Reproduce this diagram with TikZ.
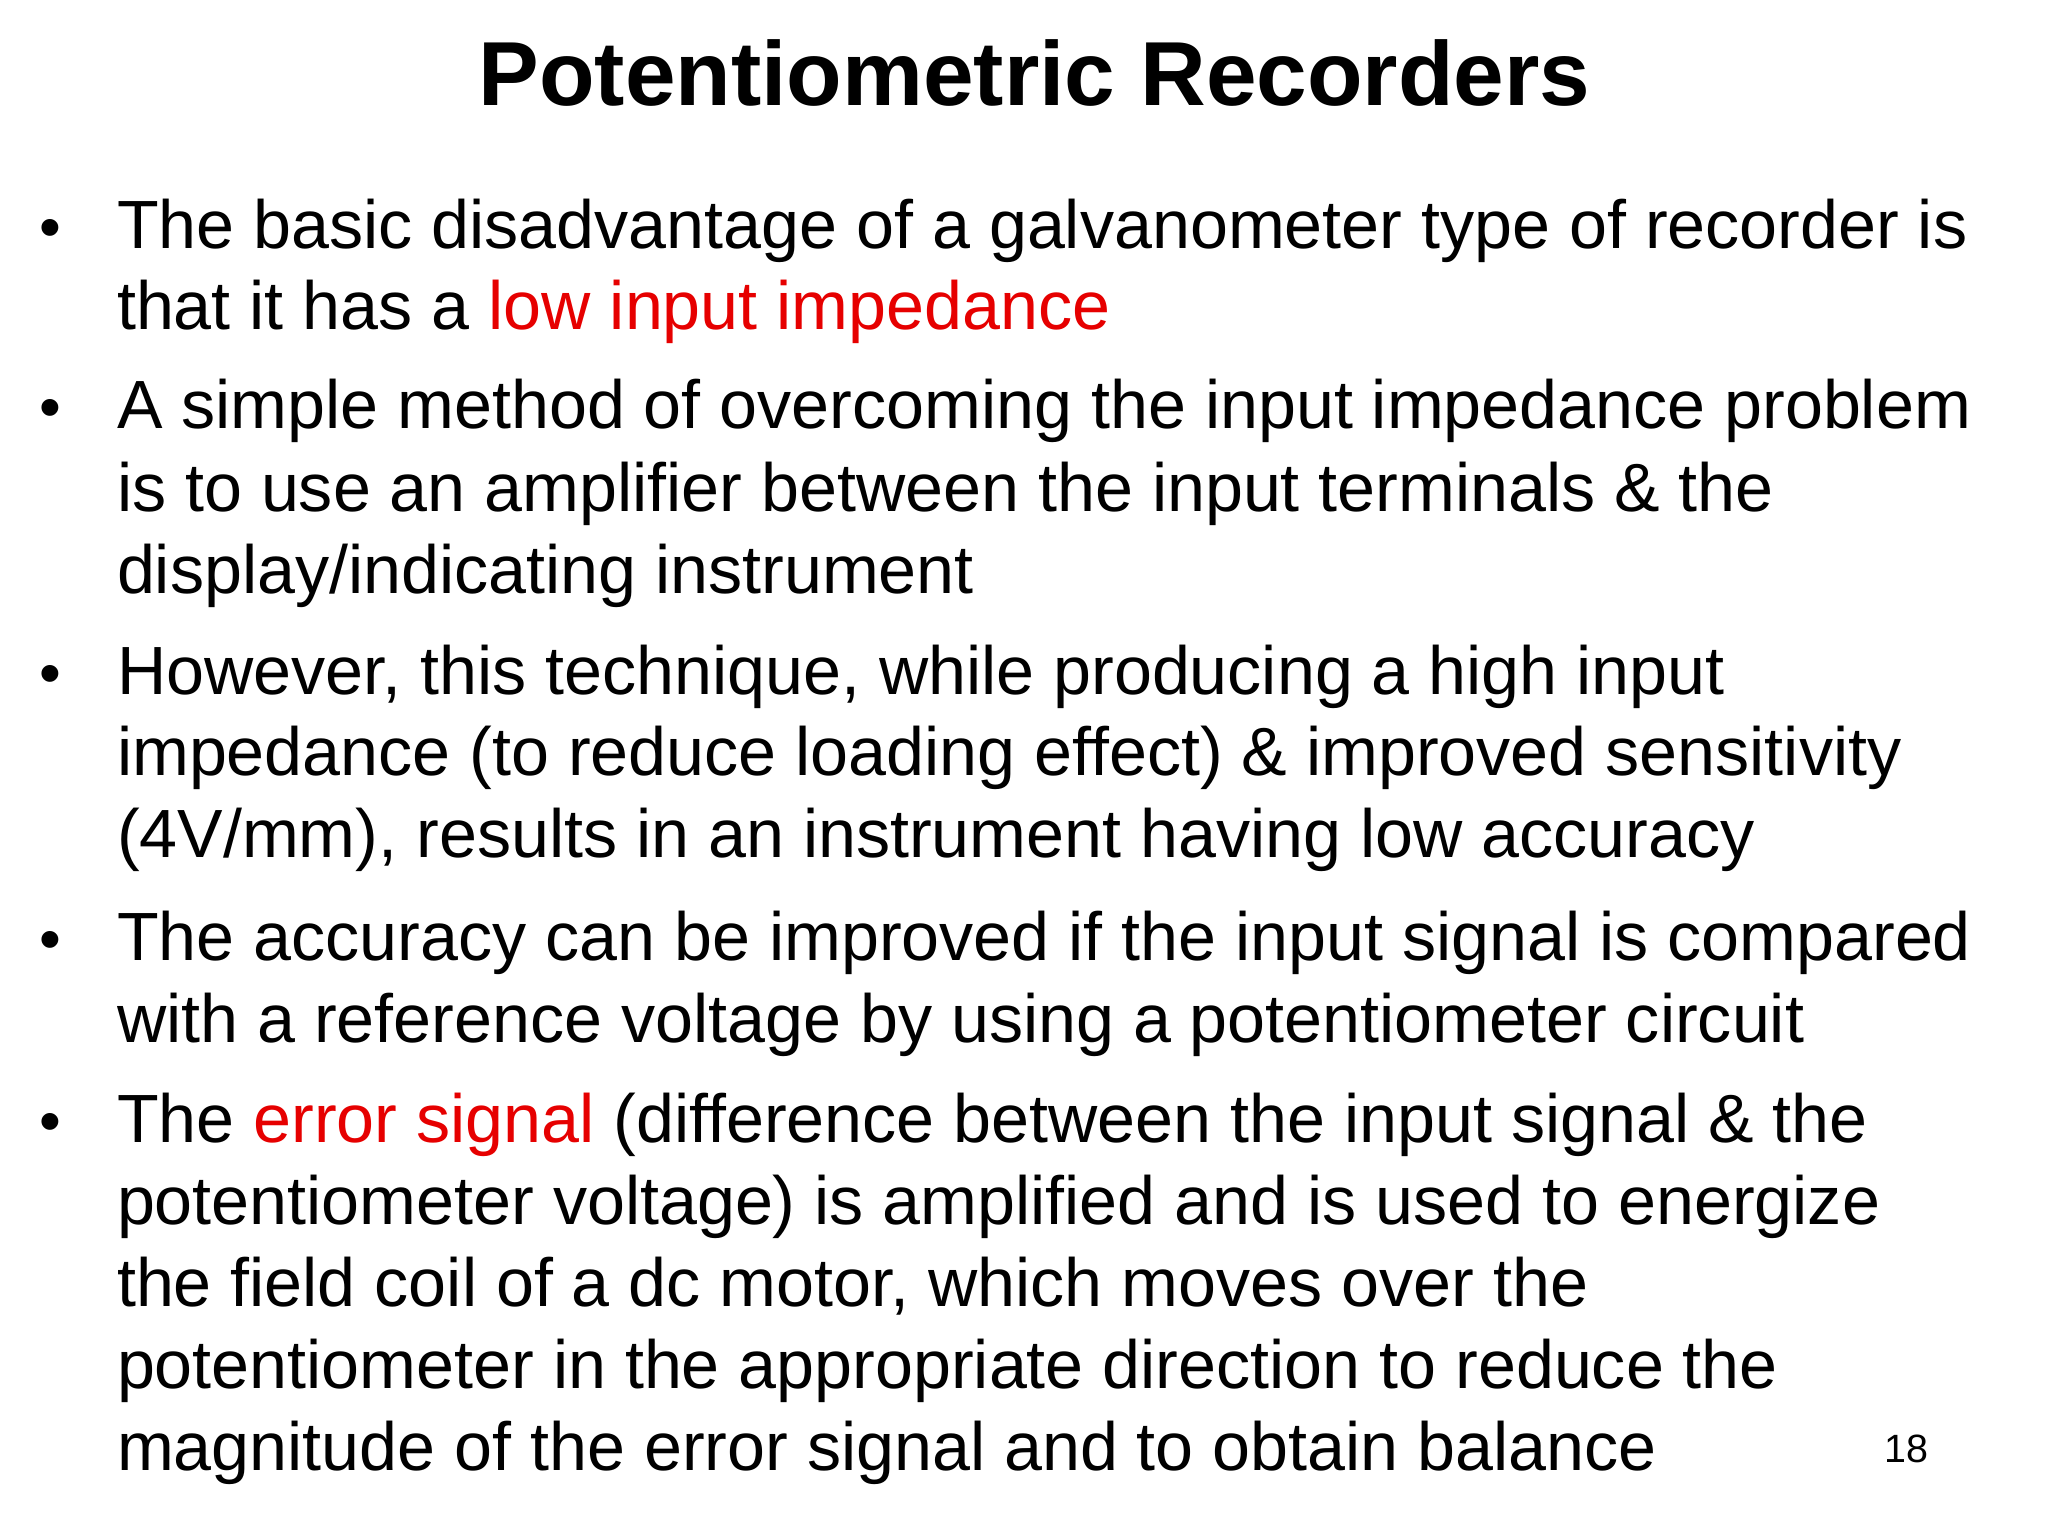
\documentclass[tikz,border=0pt]{standalone}
\usepackage{fontspec}
\setmainfont{Liberation Sans}
\definecolor{hl}{RGB}{230,0,0}
\begin{document}
\begin{tikzpicture}[x=0.01cm,y=-0.01cm,
  ln/.style={anchor=base west,inner sep=0pt,font=\fontsize{14.7pt}{17pt}\selectfont},
  bul/.style={anchor=base,inner sep=0pt,font=\fontsize{13.4pt}{16pt}\selectfont}]
\fill[white] (0,0) rectangle (1552,1164);
\useasboundingbox (0,0) rectangle (1552,1164);
\node[anchor=base,inner sep=0pt,font=\fontsize{19.6pt}{23pt}\selectfont\bfseries] (title) at (784,80) {Potentiometric Recorders};
\foreach \y/\n in {188/b1,325/b2,526/b3,728/b4,866/b5}
  \node[bul] (\n) at (38,\y) {•};
\node[ln] (l1) at (88,188) {The basic disadvantage of a galvanometer type of recorder is};
\node[ln] (l2) at (88,250) {that it has a \textcolor{hl}{low input impedance}};
\node[ln] (l3) at (88,325) {A simple method of overcoming the input impedance problem};
\node[ln] (l4) at (88,388) {is to use an amplifier between the input terminals \& the};
\node[ln] (l5) at (88,450) {display/indicating instrument};
\node[ln] (l6) at (88,526) {However, this technique, while producing a high input};
\node[ln] (l7) at (88,588) {impedance (to reduce loading effect) \& improved sensitivity};
\node[ln] (l8) at (88,650) {(4V/mm), results in an instrument having low accuracy};
\node[ln] (l9) at (88,728) {The accuracy can be improved if the input signal is compared};
\node[ln] (l10) at (88,790) {with a reference voltage by using a potentiometer circuit};
\node[ln] (l11) at (88,866) {The \textcolor{hl}{error signal} (difference between the input signal \& the};
\node[ln] (l12) at (88,928) {potentiometer voltage) is amplified and is used to energize};
\node[ln] (l13) at (88,990) {the field coil of a dc motor, which moves over the};
\node[ln] (l14) at (88,1052) {potentiometer in the appropriate direction to reduce the};
\node[ln] (l15) at (88,1114) {magnitude of the error signal and to obtain balance};
\node[anchor=base,inner sep=0pt,font=\fontsize{8.5pt}{10pt}\selectfont] (pg) at (1445,1108) {18};
\end{tikzpicture}
\end{document}
